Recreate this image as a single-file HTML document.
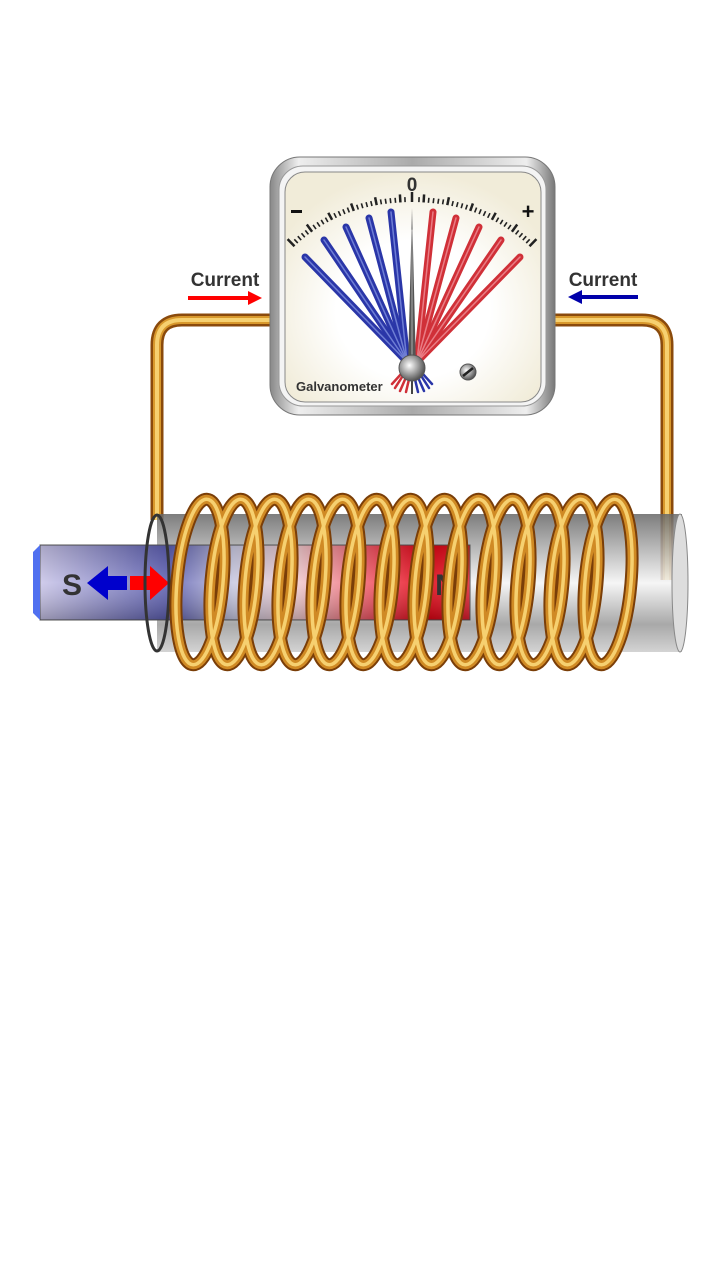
<!DOCTYPE html>
<html><head><style>html,body{margin:0;padding:0;background:#fff}svg{display:block}</style></head>
<body>
<svg width="720" height="1280" viewBox="0 0 720 1280" xmlns="http://www.w3.org/2000/svg" font-family="Liberation Sans, sans-serif">
<defs>
<linearGradient id="tube" x1="0" x2="0" y1="0" y2="1"><stop offset="0" stop-color="#666"/><stop offset="0.5" stop-color="#f4f4f4"/><stop offset="0.8" stop-color="#999"/><stop offset="1" stop-color="#ccc"/></linearGradient>
<linearGradient id="mag" x1="0" x2="1" y1="0" y2="0"><stop offset="0" stop-color="#c8c4e8"/><stop offset="0.3" stop-color="#5a5cb0"/><stop offset="0.45" stop-color="#c8c8e0"/><stop offset="0.6" stop-color="#f0c8cc"/><stop offset="0.8" stop-color="#f04050"/><stop offset="0.9" stop-color="#e00010"/><stop offset="1" stop-color="#e02030"/></linearGradient>
<linearGradient id="magv" x1="0" x2="0" y1="0" y2="1"><stop offset="0" stop-color="#000" stop-opacity="0.15"/><stop offset="0.5" stop-color="#fff" stop-opacity="0.15"/><stop offset="1" stop-color="#000" stop-opacity="0.25"/></linearGradient>
<linearGradient id="frame" x1="0" x2="1" y1="0" y2="0"><stop offset="0" stop-color="#888"/><stop offset="0.1" stop-color="#eee"/><stop offset="0.5" stop-color="#aaa"/><stop offset="0.9" stop-color="#eee"/><stop offset="1" stop-color="#777"/></linearGradient>
<radialGradient id="face" cx="0.5" cy="0.6" r="0.6"><stop offset="0.5" stop-color="#fff"/><stop offset="1" stop-color="#f1ecd9"/></radialGradient>
<radialGradient id="piv" cx="0.4" cy="0.4" r="0.6"><stop offset="0" stop-color="#fff"/><stop offset="1" stop-color="#555"/></radialGradient>
<g id="coils">
<ellipse cx="200" cy="582" rx="23" ry="83" transform="rotate(5 200 582)"/>
<ellipse cx="234" cy="582" rx="23" ry="83" transform="rotate(5 234 582)"/>
<ellipse cx="268" cy="582" rx="23" ry="83" transform="rotate(5 268 582)"/>
<ellipse cx="302" cy="582" rx="23" ry="83" transform="rotate(5 302 582)"/>
<ellipse cx="336" cy="582" rx="23" ry="83" transform="rotate(5 336 582)"/>
<ellipse cx="370" cy="582" rx="23" ry="83" transform="rotate(5 370 582)"/>
<ellipse cx="404" cy="582" rx="23" ry="83" transform="rotate(5 404 582)"/>
<ellipse cx="438" cy="582" rx="23" ry="83" transform="rotate(5 438 582)"/>
<ellipse cx="472" cy="582" rx="23" ry="83" transform="rotate(5 472 582)"/>
<ellipse cx="506" cy="582" rx="23" ry="83" transform="rotate(5 506 582)"/>
<ellipse cx="540" cy="582" rx="23" ry="83" transform="rotate(5 540 582)"/>
<ellipse cx="574" cy="582" rx="23" ry="83" transform="rotate(5 574 582)"/>
<ellipse cx="608" cy="582" rx="23" ry="83" transform="rotate(5 608 582)"/>
</g>
</defs>

<g fill="none">
<path d="M157 520 V345 Q157 320 182 320 H272" stroke="#8a4a0c" stroke-width="13"/>
<path d="M157 520 V345 Q157 320 182 320 H272" stroke="#d8982c" stroke-width="8"/>
<path d="M157 520 V345 Q157 320 182 320 H272" stroke="#f6d070" stroke-width="4"/>
<path d="M553 320 H642 Q667 320 667 345 V580" stroke="#8a4a0c" stroke-width="13"/>
<path d="M553 320 H642 Q667 320 667 345 V580" stroke="#d8982c" stroke-width="8"/>
<path d="M553 320 H642 Q667 320 667 345 V580" stroke="#f6d070" stroke-width="4"/>
</g>

<text x="225" y="286" font-size="19" font-weight="bold" fill="#333" text-anchor="middle">Current</text>
<line x1="188" y1="298" x2="250" y2="298" stroke="#f00" stroke-width="4"/>
<polygon points="248,291 262,298 248,305" fill="#f00"/>
<text x="603" y="286" font-size="19" font-weight="bold" fill="#333" text-anchor="middle">Current</text>
<line x1="580" y1="297" x2="638" y2="297" stroke="#00a" stroke-width="4"/>
<polygon points="582,290 568,297 582,304" fill="#00a"/>

<rect x="270" y="157" width="285" height="258" rx="30" fill="url(#frame)" stroke="#777"/>
<rect x="279" y="166" width="267" height="240" rx="24" fill="#f4f4f4" stroke="#999"/>
<rect x="285" y="172" width="256" height="230" rx="20" fill="url(#face)" stroke="#888"/>
<g transform="translate(412,368)" stroke="#222" stroke-width="1.6">
<line x1="-117.5" y1="-121.7" x2="-124.4" y2="-128.9" stroke-width="2.5"/>
<line x1="-114.2" y1="-124.9" x2="-117.7" y2="-128.7"/>
<line x1="-110.8" y1="-127.9" x2="-114.2" y2="-131.8"/>
<line x1="-107.2" y1="-130.8" x2="-110.5" y2="-134.8"/>
<line x1="-103.6" y1="-133.6" x2="-106.7" y2="-137.6"/>
<line x1="-99.9" y1="-136.3" x2="-105.2" y2="-143.5" stroke-width="2.5"/>
<line x1="-96.0" y1="-138.9" x2="-98.9" y2="-143.1"/>
<line x1="-92.1" y1="-141.4" x2="-94.9" y2="-145.7"/>
<line x1="-88.2" y1="-143.8" x2="-90.8" y2="-148.1"/>
<line x1="-84.1" y1="-146.0" x2="-86.6" y2="-150.4"/>
<line x1="-79.9" y1="-148.2" x2="-83.7" y2="-155.2" stroke-width="2.5"/>
<line x1="-75.7" y1="-150.2" x2="-78.0" y2="-154.8"/>
<line x1="-71.4" y1="-152.1" x2="-73.6" y2="-156.8"/>
<line x1="-67.1" y1="-153.9" x2="-69.1" y2="-158.7"/>
<line x1="-62.7" y1="-155.6" x2="-64.6" y2="-160.4"/>
<line x1="-58.2" y1="-157.1" x2="-60.9" y2="-164.6" stroke-width="2.5"/>
<line x1="-53.7" y1="-158.5" x2="-55.3" y2="-163.3"/>
<line x1="-49.2" y1="-159.8" x2="-50.6" y2="-164.6"/>
<line x1="-44.6" y1="-160.9" x2="-45.9" y2="-165.8"/>
<line x1="-40.0" y1="-162.0" x2="-41.2" y2="-166.9"/>
<line x1="-35.3" y1="-162.9" x2="-36.9" y2="-170.8" stroke-width="2.5"/>
<line x1="-30.6" y1="-163.7" x2="-31.5" y2="-168.6"/>
<line x1="-25.9" y1="-164.3" x2="-26.7" y2="-169.3"/>
<line x1="-21.2" y1="-164.8" x2="-21.8" y2="-169.8"/>
<line x1="-16.4" y1="-165.2" x2="-16.9" y2="-170.2"/>
<line x1="-11.6" y1="-165.6" x2="-12.1" y2="-173.6" stroke-width="2.5"/>
<line x1="-6.9" y1="-165.9" x2="-7.1" y2="-170.9"/>
<line x1="0" y1="-166" x2="0" y2="-176" stroke-width="2.5"/>
<line x1="6.9" y1="-165.9" x2="7.1" y2="-170.9"/>
<line x1="11.6" y1="-165.6" x2="12.1" y2="-173.6" stroke-width="2.5"/>
<line x1="16.4" y1="-165.2" x2="16.9" y2="-170.2"/>
<line x1="21.2" y1="-164.8" x2="21.8" y2="-169.8"/>
<line x1="25.9" y1="-164.3" x2="26.7" y2="-169.3"/>
<line x1="30.6" y1="-163.7" x2="31.5" y2="-168.6"/>
<line x1="35.3" y1="-162.9" x2="36.9" y2="-170.8" stroke-width="2.5"/>
<line x1="40.0" y1="-162.0" x2="41.2" y2="-166.9"/>
<line x1="44.6" y1="-160.9" x2="45.9" y2="-165.8"/>
<line x1="49.2" y1="-159.8" x2="50.6" y2="-164.6"/>
<line x1="53.7" y1="-158.5" x2="55.3" y2="-163.3"/>
<line x1="58.2" y1="-157.1" x2="60.9" y2="-164.6" stroke-width="2.5"/>
<line x1="62.7" y1="-155.6" x2="64.6" y2="-160.4"/>
<line x1="67.1" y1="-153.9" x2="69.1" y2="-158.7"/>
<line x1="71.4" y1="-152.1" x2="73.6" y2="-156.8"/>
<line x1="75.7" y1="-150.2" x2="78.0" y2="-154.8"/>
<line x1="79.9" y1="-148.2" x2="83.7" y2="-155.2" stroke-width="2.5"/>
<line x1="84.1" y1="-146.0" x2="86.6" y2="-150.4"/>
<line x1="88.2" y1="-143.8" x2="90.8" y2="-148.1"/>
<line x1="92.1" y1="-141.4" x2="94.9" y2="-145.7"/>
<line x1="96.0" y1="-138.9" x2="98.9" y2="-143.1"/>
<line x1="99.9" y1="-136.3" x2="105.2" y2="-143.5" stroke-width="2.5"/>
<line x1="103.6" y1="-133.6" x2="106.7" y2="-137.6"/>
<line x1="107.2" y1="-130.8" x2="110.5" y2="-134.8"/>
<line x1="110.8" y1="-127.9" x2="114.2" y2="-131.8"/>
<line x1="114.2" y1="-124.9" x2="117.7" y2="-128.7"/>
<line x1="117.5" y1="-121.7" x2="124.4" y2="-128.9" stroke-width="2.5"/>
</g>
<text x="412" y="191" font-size="19" font-weight="bold" fill="#333" text-anchor="middle">0</text>
<rect x="291" y="210" width="11" height="3" fill="#111"/>
<text x="528" y="219" font-size="22" font-weight="bold" fill="#111" text-anchor="middle">+</text>

<g stroke-linecap="round">
<g stroke="#2a36a8" stroke-width="7">
<line x1="407" y1="362" x2="305" y2="257"/>
<line x1="407" y1="362" x2="324" y2="240"/>
<line x1="407" y1="362" x2="346" y2="227"/>
<line x1="407" y1="362" x2="369" y2="218"/>
<line x1="407" y1="362" x2="391" y2="212"/>
</g>
<g stroke="#d03038" stroke-width="7">
<line x1="417" y1="362" x2="433" y2="212"/>
<line x1="417" y1="362" x2="456" y2="218"/>
<line x1="417" y1="362" x2="479" y2="227"/>
<line x1="417" y1="362" x2="501" y2="240"/>
<line x1="417" y1="362" x2="520" y2="257"/>
</g>
<g stroke="#8090e0" stroke-width="1.5" opacity="0.8">
<line x1="407" y1="362" x2="305" y2="257"/><line x1="407" y1="362" x2="324" y2="240"/><line x1="407" y1="362" x2="346" y2="227"/><line x1="407" y1="362" x2="369" y2="218"/><line x1="407" y1="362" x2="391" y2="212"/>
</g>
<g stroke="#f09098" stroke-width="1.5" opacity="0.8">
<line x1="417" y1="362" x2="433" y2="212"/><line x1="417" y1="362" x2="456" y2="218"/><line x1="417" y1="362" x2="479" y2="227"/><line x1="417" y1="362" x2="501" y2="240"/><line x1="417" y1="362" x2="520" y2="257"/>
</g>
<polygon points="408,368 412,208 416,368" fill="#555"/>
<line x1="412" y1="230" x2="412" y2="365" stroke="#aaa" stroke-width="1"/>
<g stroke="#2a36a8" stroke-width="2.5"><line x1="414" y1="375" x2="418" y2="392"/><line x1="417" y1="375" x2="424" y2="391"/><line x1="420" y1="374" x2="429" y2="388"/><line x1="422" y1="373" x2="432" y2="384"/></g>
<g stroke="#d03038" stroke-width="2.5"><line x1="410" y1="375" x2="406" y2="392"/><line x1="407" y1="375" x2="400" y2="391"/><line x1="404" y1="374" x2="395" y2="388"/><line x1="402" y1="373" x2="392" y2="384"/></g>
</g>
<line x1="412" y1="370" x2="412" y2="394" stroke="#444" stroke-width="2"/>
<circle cx="412" cy="368" r="13" fill="url(#piv)" stroke="#555"/>
<circle cx="468" cy="372" r="8" fill="url(#piv)" stroke="#555"/>
<line x1="463" y1="376" x2="473" y2="368" stroke="#222" stroke-width="2.5"/>
<text x="296" y="391" font-size="13" font-weight="bold" fill="#333">Galvanometer</text>

<rect x="157" y="514" width="525" height="138" fill="url(#tube)" opacity="0.85"/>
<ellipse cx="680" cy="583" rx="8" ry="69" fill="#ddd" stroke="#888"/>

<rect x="40" y="545" width="430" height="75" fill="url(#mag)" stroke="#555"/>
<rect x="40" y="545" width="430" height="75" fill="url(#magv)"/>
<polygon points="40,545 33,552 33,613 40,620" fill="#5070f0"/>
<text x="72" y="595" font-size="30" font-weight="bold" fill="#333" text-anchor="middle">S</text>
<text x="446" y="595" font-size="30" font-weight="bold" fill="#333" text-anchor="middle">N</text>
<polygon points="127,576 108,576 108,566 87,583 108,600 108,590 127,590" fill="#0000cc"/>
<polygon points="130,576 150,576 150,566 169,583 150,600 150,590 130,590" fill="#f00"/>
<ellipse cx="157" cy="583" rx="12" ry="68" fill="none" stroke="#333" stroke-width="3"/>

<g fill="none">
<use href="#coils" stroke="#7a3e08" stroke-width="13"/>
<use href="#coils" stroke="#d08a24" stroke-width="9"/>
<use href="#coils" stroke="#f6d070" stroke-width="3.5"/>
</g>
</svg>
</body></html>
